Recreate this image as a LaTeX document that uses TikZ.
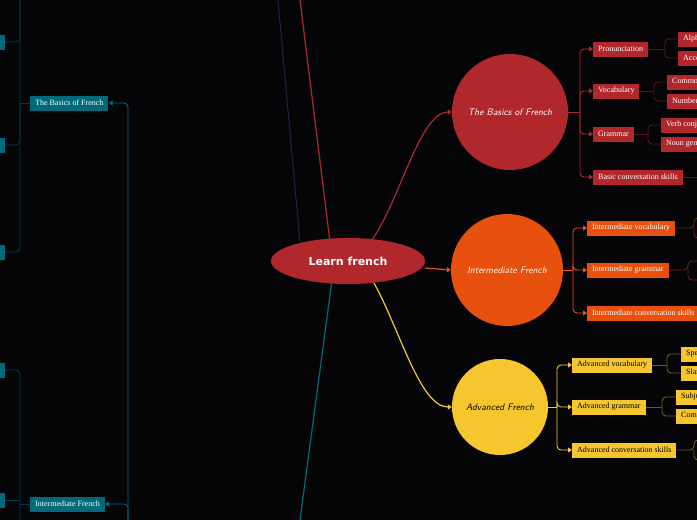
\documentclass[tikz,border=0pt]{standalone}
\usepackage{fontspec}
\setmainfont{Liberation Serif}
\newfontfamily\titlefont{DejaVu Sans}
\usetikzlibrary{arrows.meta,shapes.geometric}
\definecolor{bg}{HTML}{050507}
\definecolor{cred}{HTML}{B0282C}
\definecolor{dred}{HTML}{5A1518}
\definecolor{cora}{HTML}{E8500E}
\definecolor{dora}{HTML}{6A2608}
\definecolor{cyel}{HTML}{F5C62E}
\definecolor{dyel}{HTML}{6E5A18}
\definecolor{cteal}{HTML}{006A7A}
\definecolor{dteal}{HTML}{003A44}
\definecolor{navy}{HTML}{1A2040}
\tikzset{
  box/.style={fill=#1, text=white, font=\fontsize{8}{9}\selectfont, inner xsep=5pt, inner ysep=2pt, minimum height=15pt, anchor=west},
  ybox/.style={fill=cyel, text=black, font=\fontsize{8}{9}\selectfont, inner xsep=5pt, inner ysep=2pt, minimum height=15pt, anchor=west},
  stub/.style={fill=cteal, minimum width=10pt, minimum height=15pt, inner sep=0, anchor=east},
  conn/.style={draw=#1, line width=0.9pt, rounded corners=4pt},
  tip/.style={-{Triangle[length=4pt,width=5pt]}},
  circ/.style={circle, fill=#1, inner sep=0, font=\sffamily\itshape\fontsize{9.5}{10}\selectfont},
}
\begin{document}
\begin{tikzpicture}[x=1pt,y=-1pt]
\fill[bg] (0,0) rectangle (697,520);
\clip (0,0) rectangle (697,520);
\useasboundingbox (0,0) rectangle (697,520);
% main lines
\coordinate (top1) at (300,0);
\coordinate (top2) at (278,0);
\coordinate (bot1) at (300,520);
\draw[cred, line width=1.2pt] (330,242) -- (top1);
\draw[navy, line width=1.2pt] (300,242) -- (top2);
\draw[cteal, line width=1.2pt] (332,280) -- (bot1);
% circles
\node[circ=cred, minimum size=116pt, text=white] (c1) at (510,112) {The Basics of French};
\node[circ=cora, minimum size=112pt, text=white] (c2) at (507,270) {Intermediate French};
\node[circ=cyel, minimum size=96pt, text=black] (c3) at (500,407) {Advanced French};
\draw[cred, line width=1.2pt, tip] (372,240) .. controls (400,200) and (420,112) .. (c1.west);
\draw[cora, line width=1.2pt, tip] (425,268) -- (c2.west);
\draw[cyel, line width=1.2pt, tip] (374,283) .. controls (400,330) and (420,407) .. (c3.west);
\node[ellipse, fill=cred, minimum width=154pt, minimum height=46pt, inner sep=0, text=white, font=\titlefont\bfseries\fontsize{11}{13}\selectfont] (root) at (348,261) {Learn french};
% red branch
\node[box=cred] (r1) at (593,49) {Pronunciation};
\node[box=cred] (r2) at (593,91) {Vocabulary};
\node[box=cred] (r3) at (593,134) {Grammar};
\node[box=cred] (r4) at (593,177) {Basic conversation skills};
\draw[conn=cred] (c1.east) -- (580,112);
\foreach \n in {r1,r2,r3,r4} \draw[conn=cred, tip] (580,112) |- (\n.west);
\node[box=cred] (r11) at (678,39) {Alphabet};
\node[box=cred] (r12) at (678,58) {Accents};
\node[box=cred] (r21) at (667,82) {Common phrases};
\node[box=cred] (r22) at (667,101) {Numbers};
\node[box=cred] (r31) at (661,125) {Verb conjugation};
\node[box=cred] (r32) at (661,144) {Noun gender};
\draw[conn=dred] (r1.east) -- (665,49);
\foreach \n in {r11,r12} \draw[conn=dred] (665,49) |- (\n.west);
\draw[conn=dred] (r2.east) -- (654,91);
\foreach \n in {r21,r22} \draw[conn=dred] (654,91) |- (\n.west);
\draw[conn=dred] (r3.east) -- (648,134);
\foreach \n in {r31,r32} \draw[conn=dred] (648,134) |- (\n.west);
\coordinate (r4e) at (697,177);
\draw[conn=dred] (r4.east) -- (r4e);
% orange branch
\node[box=cora] (o1) at (587,228) {Intermediate vocabulary};
\node[box=cora] (o2) at (587,270) {Intermediate grammar};
\node[box=cora] (o3) at (587,313) {Intermediate conversation skills};
\draw[conn=cora] (c2.east) -- (573,270);
\foreach \n in {o1,o2,o3} \draw[conn=cora, tip] (573,270) |- (\n.west);
\coordinate (o1a) at (700,218); \coordinate (o1b) at (700,238);
\draw[conn=dora] (o1.east) -- (694,228) |- (o1a);
\draw[conn=dora] (694,228) |- (o1b);
\coordinate (o2a) at (700,261); \coordinate (o2b) at (700,280);
\draw[conn=dora] (o2.east) -- (688,270) |- (o2a);
\draw[conn=dora] (688,270) |- (o2b);
% yellow branch
\node[ybox] (y1) at (572,365) {Advanced vocabulary};
\node[ybox] (y2) at (572,407) {Advanced grammar};
\node[ybox] (y3) at (572,450) {Advanced conversation skills};
\draw[conn=cyel] (c3.east) -- (557,407);
\foreach \n in {y1,y2,y3} \draw[conn=cyel, tip] (557,407) |- (\n.west);
\node[ybox] (y11) at (681,354) {Specialized vocabulary};
\node[ybox] (y12) at (681,373) {Slang};
\node[ybox] (y21) at (676,397) {Subjunctive};
\node[ybox] (y22) at (676,416) {Complex tenses};
\draw[conn=dyel] (y1.east) -- (667,365);
\foreach \n in {y11,y12} \draw[conn=dyel] (667,365) |- (\n.west);
\draw[conn=dyel] (y2.east) -- (662,407);
\foreach \n in {y21,y22} \draw[conn=dyel] (662,407) |- (\n.west);
\coordinate (y3a) at (700,440); \coordinate (y3b) at (700,460);
\draw[conn=dyel] (y3.east) -- (694,450) |- (y3a);
\draw[conn=dyel] (694,450) |- (y3b);
% left teal branch
\node[box=cteal] (t1) at (30,103) {The Basics of French};
\node[box=cteal] (t2) at (30,504) {Intermediate French};
\coordinate (tb) at (128,520);
\draw[conn=cteal, tip] (tb) |- (t1.east);
\draw[conn=cteal, tip] (128,520) |- (t2.east);
\node[stub] (l1) at (5,42) {};
\node[stub] (l2) at (5,145) {};
\node[stub] (l3) at (5,252) {};
\node[stub] (l4) at (5,370) {};
\node[stub] (l5) at (5,500) {};
\coordinate (lt) at (20,0);
\draw[conn=dteal] (t1.west) -- (20,103);
\draw[conn=dteal] (lt) |- (l1.east);
\draw[conn=dteal] (lt) |- (l3.east);
\draw[conn=dteal] (20,103) |- (l2.east);
\coordinate (lb) at (20,520);
\draw[conn=dteal] (lb) |- (l4.east);
\draw[conn=dteal] (20,500) -- (l5.east);
\draw[conn=dteal] (t2.west) -- (20,504);
\end{tikzpicture}
\end{document}
